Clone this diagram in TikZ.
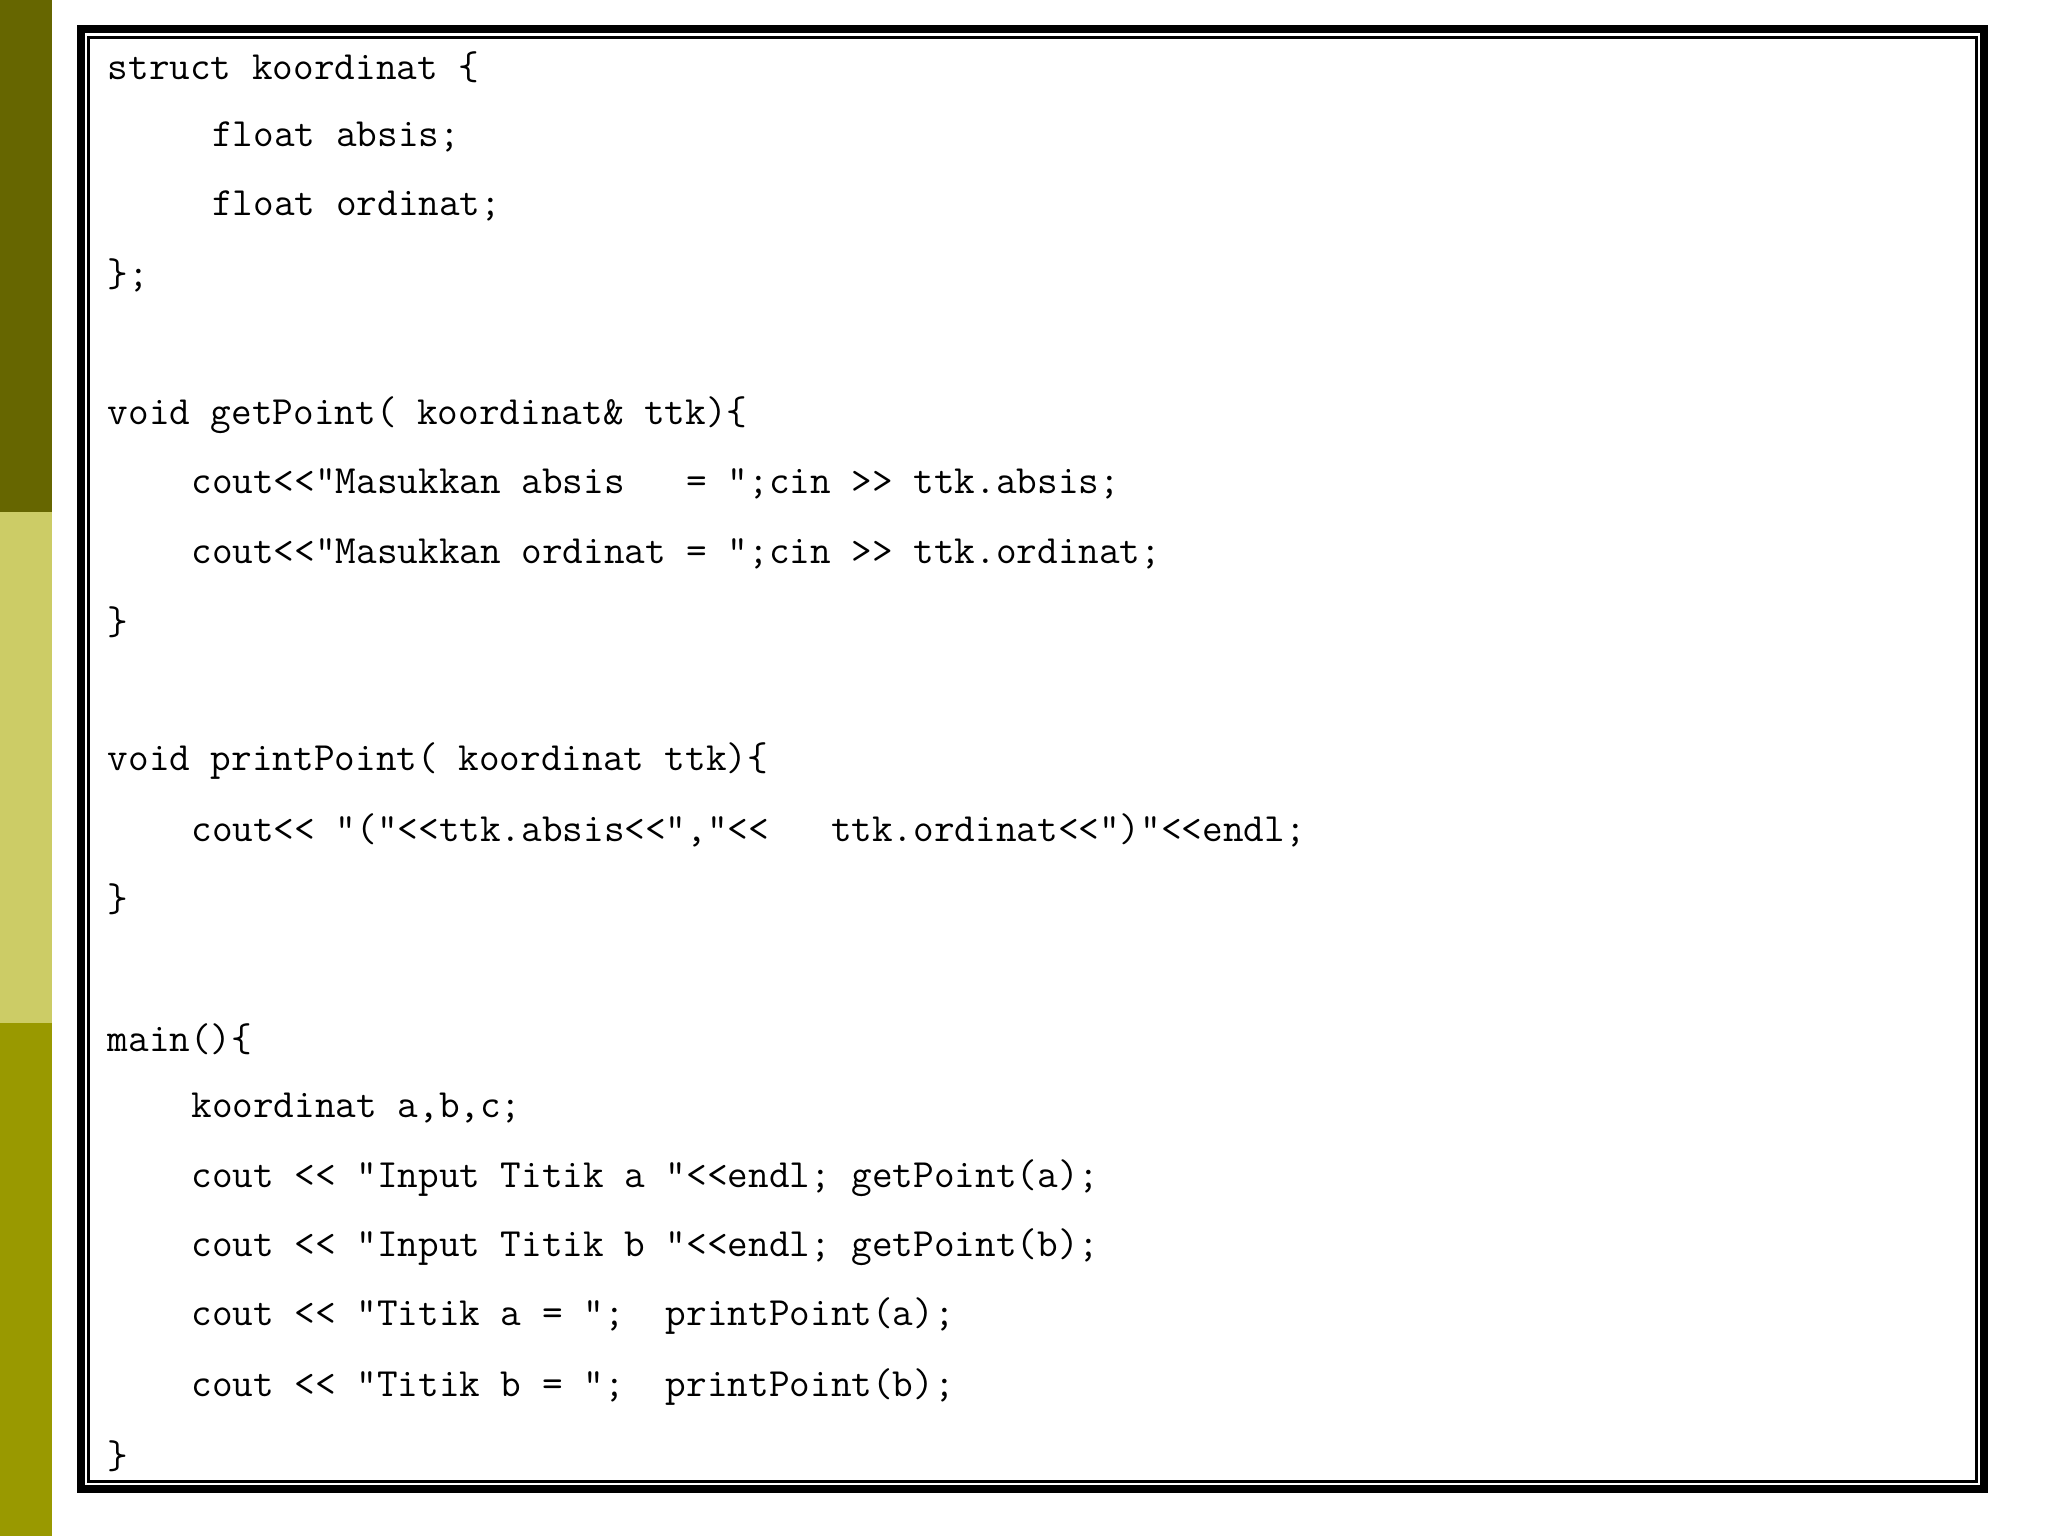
\documentclass[tikz,border=0pt]{standalone}
\definecolor{barA}{HTML}{666600}
\definecolor{barB}{HTML}{CCCC66}
\definecolor{barC}{HTML}{999900}
\begin{document}
\begin{tikzpicture}[x=0.013061cm,y=-0.013061cm,
  code/.style={anchor=west,inner sep=0pt,yshift=-0.035cm,font=\ttfamily\fontsize{11.4pt}{13pt}\selectfont}]
\useasboundingbox (0,0) rectangle (1568,1176);
\fill[barA] (0,0) rectangle (40,392);
\fill[barB] (0,392) rectangle (40,783);
\fill[barC] (0,783) rectangle (40,1176);
\draw[line width=2.2pt] (62,22) rectangle (1519,1140);
\draw[line width=0.8pt] (68,29) rectangle (1513,1134);
\def\cw{16}
\node[code] (l1) at (82,49) {struct~koordinat~\{};
\node[code] (l2) at (82+5*\cw,102) {float~absis;};
\node[code] (l3) at (82+5*\cw,155) {float~ordinat;};
\node[code] (l4) at (82,208) {\};};
\node[code] (l5) at (82,315) {void~getPoint(~koordinat\&~ttk)\{};
\node[code] (l6) at (82+4*\cw,368) {cout<{}<"Masukkan~absis~~~=~";cin~>{}>~ttk.absis;};
\node[code] (l7) at (82+4*\cw,421) {cout<{}<"Masukkan~ordinat~=~";cin~>{}>~ttk.ordinat;};
\node[code] (l8) at (82,474) {\}};
\node[code] (l9) at (82,580) {void~printPoint(~koordinat~ttk)\{};
\node[code] (l10) at (82+4*\cw,633) {cout<{}<~"("<{}<ttk.absis<{}<","<{}<~~~ttk.ordinat<{}<")"<{}<endl;};
\node[code] (l11) at (82,686) {\}};
\node[code] (l12) at (82,793) {main()\{};
\node[code] (l13) at (82+4*\cw,846) {koordinat~a,b,c;};
\node[code] (l14) at (82+4*\cw,899) {cout~<{}<~"Input~Titik~a~"<{}<endl;~getPoint(a);};
\node[code] (l15) at (82+4*\cw,952) {cout~<{}<~"Input~Titik~b~"<{}<endl;~getPoint(b);};
\node[code] (l16) at (82+4*\cw,1005) {cout~<{}<~"Titik~a~=~";~~printPoint(a);};
\node[code] (l17) at (82+4*\cw,1059) {cout~<{}<~"Titik~b~=~";~~printPoint(b);};
\node[code] (l18) at (82,1112) {\}};
\end{tikzpicture}
\end{document}
